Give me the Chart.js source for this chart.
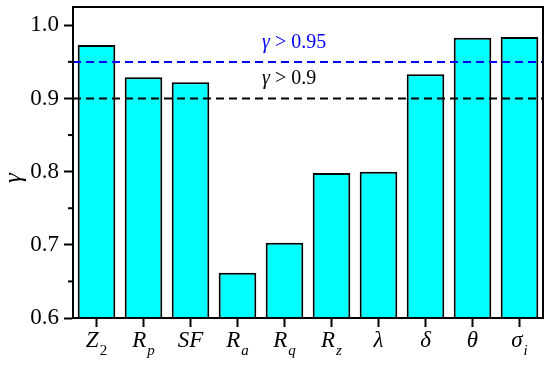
<!DOCTYPE html>
<html>
<head>
<meta charset="utf-8">
<script src="https://cdn.jsdelivr.net/npm/chart.js@4.4.0/dist/chart.umd.min.js"></script>
<style>
  html, body { margin: 0; padding: 0; background: #fff; }
  canvas { display: block; }
</style>
</head>
<body>
<canvas id="gammaChart" width="550" height="365"></canvas>
<script>
// Categories (base symbol + subscript)
const labelBase = ["Z", "R", "SF", "R", "R", "R", "λ", "δ", "θ", "σ"];
const labelSub = ["2", "p", "", "a", "q", "z", "", "", "", "i"];

// Gamma value per parameter
const gammaValues = [0.973, 0.929, 0.922, 0.662, 0.703, 0.798, 0.800, 0.933, 0.983, 0.984];

// Threshold lines and their labels
const thresholds = [0.95, 0.9];
const thresholdText = [" > 0.95", " > 0.9"];
const thresholdColors = ["#0000ff", "#000000"];

// Axis ticks
const yMajorTicks = [0.6, 0.7, 0.8, 0.9, 1.0];
const yMinorTicks = [0.65, 0.75, 0.85, 0.95];

const SERIF = "'Liberation Serif', 'DejaVu Serif', serif";

// Custom drawing: frame, minor ticks, dashed thresholds, category labels, y title
const decorPlugin = {
  id: "decor",
  afterDatasetsDraw(chart) {
    const { ctx, chartArea: a, scales } = chart;
    const x = scales.x, y = scales.y;
    ctx.save();

    // dashed threshold lines
    thresholds.forEach((t, i) => {
      const py = y.getPixelForValue(t);
      ctx.strokeStyle = thresholdColors[i];
      ctx.lineWidth = 2;
      ctx.setLineDash([8, 5]);
      ctx.beginPath();
      ctx.moveTo(a.left, py);
      ctx.lineTo(a.right, py);
      ctx.stroke();

      // label: italic gamma + upright rest
      const tx = x.getPixelForValue(3.5) + 1;
      const ty = py - 14;
      ctx.setLineDash([]);
      ctx.fillStyle = thresholdColors[i];
      ctx.textBaseline = "alphabetic";
      ctx.textAlign = "left";
      ctx.font = "italic 20px " + SERIF;
      ctx.fillText("γ", tx, ty);
      const gw = ctx.measureText("γ").width;
      ctx.font = "20px " + SERIF;
      ctx.fillText(thresholdText[i], tx + gw, ty);
    });
    ctx.setLineDash([]);

    // frame
    ctx.strokeStyle = "#000";
    ctx.lineWidth = 2;
    ctx.strokeRect(a.left, a.top, a.right - a.left, a.bottom - a.top);

    // minor y ticks
    yMinorTicks.forEach((v) => {
      const py = y.getPixelForValue(v);
      ctx.beginPath();
      ctx.moveTo(a.left - 5, py);
      ctx.lineTo(a.left, py);
      ctx.stroke();
    });

    // category labels with subscripts
    ctx.fillStyle = "#000";
    ctx.textBaseline = "alphabetic";
    ctx.textAlign = "left";
    labelBase.forEach((b, i) => {
      const cx = x.getPixelForValue(i);
      ctx.font = "italic 23px " + SERIF;
      const bw = ctx.measureText(b).width;
      const subFont = (labelSub[i] === "2" ? "" : "italic ") + "15px " + SERIF;
      ctx.font = subFont;
      const sw = labelSub[i] ? ctx.measureText(labelSub[i]).width + 1 : 0;
      const left = cx - (bw + sw) / 2;
      ctx.font = "italic 23px " + SERIF;
      ctx.fillText(b, left, 347);
      if (labelSub[i]) {
        ctx.font = subFont;
        ctx.fillText(labelSub[i], left + bw + 1, 355);
      }
    });

    // y axis title
    ctx.save();
    ctx.translate(21, 178);
    ctx.rotate(-Math.PI / 2);
    ctx.font = "italic 25px " + SERIF;
    ctx.textAlign = "center";
    ctx.fillText("γ", 0, 0);
    ctx.restore();

    ctx.restore();
  },
};

function zeroPadding(scale) {
  scale.paddingTop = 0;
  scale.paddingBottom = 0;
  scale.paddingLeft = 0;
  scale.paddingRight = 0;
}

function createGammaChart() {
  const ctx = document.getElementById("gammaChart").getContext("2d");
  new Chart(ctx, {
    type: "bar",
    data: {
      labels: labelBase.map((b, i) => b + labelSub[i]),
      datasets: [
        {
          data: gammaValues,
          backgroundColor: "#00ffff",
          borderColor: "#000000",
          borderWidth: 2,
          barPercentage: 0.8,
          categoryPercentage: 1.0,
        },
      ],
    },
    options: {
      responsive: false,
      animation: false,
      layout: { padding: { top: 7, right: 7, left: 0, bottom: 0 } },
      plugins: {
        legend: { display: false },
        tooltip: { enabled: false },
      },
      scales: {
        x: {
          offset: true,
          grid: {
            display: true,
            offset: false,
            drawOnChartArea: false,
            tickLength: 9,
            tickWidth: 2,
            tickColor: "#000",
          },
          border: { display: true, color: "#000", width: 2 },
          ticks: { display: false },
          afterFit(scale) {
            scale.height = 47;
            zeroPadding(scale);
          },
        },
        y: {
          min: 0.6,
          max: 1.025,
          afterBuildTicks(scale) {
            scale.ticks = yMajorTicks.map((v) => ({ value: v }));
          },
          grid: {
            drawOnChartArea: false,
            tickLength: 9,
            tickWidth: 2,
            tickColor: "#000",
          },
          border: { display: true, color: "#000", width: 2 },
          ticks: {
            color: "#000",
            padding: 5,
            font: { family: SERIF, size: 23 },
            callback: (v) => Number(v).toFixed(1),
          },
          afterFit(scale) {
            scale.width = 73;
            zeroPadding(scale);
          },
        },
      },
    },
    plugins: [decorPlugin],
  });
}

document.addEventListener("DOMContentLoaded", createGammaChart);
</script>
</body>
</html>
